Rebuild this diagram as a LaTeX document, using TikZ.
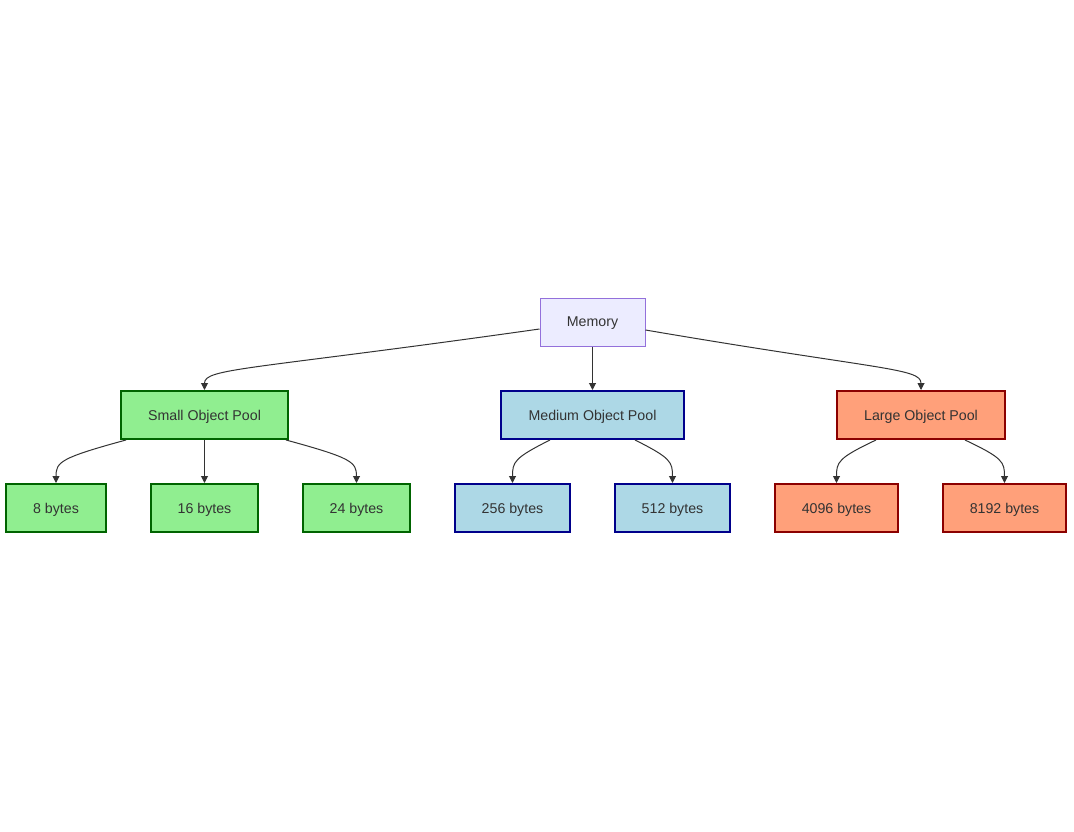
\documentclass[tikz,border=0pt]{standalone}
\usepackage{fontspec}
\setmainfont{Liberation Sans}
\usetikzlibrary{arrows.meta}
\definecolor{textgray}{HTML}{333333}
\definecolor{memfill}{HTML}{ECECFF}
\definecolor{memline}{HTML}{9370DB}
\definecolor{smallfill}{HTML}{90EE90}
\definecolor{smallline}{HTML}{006400}
\definecolor{medfill}{HTML}{ADD8E6}
\definecolor{medline}{HTML}{00008B}
\definecolor{largefill}{HTML}{FFA07A}
\definecolor{largeline}{HTML}{8B0000}
\begin{document}
\begin{tikzpicture}[x=1pt, y=-1pt,
    box/.style={draw, rectangle, minimum height=48pt, inner sep=0pt,
      text depth=0pt, text=textgray, font=\fontsize{14.2}{17}\selectfont},
    memorybox/.style={box, fill=memfill, draw=memline, line width=1pt},
    smallbox/.style={box, fill=smallfill, draw=smallline, line width=2pt},
    mediumbox/.style={box, fill=medfill, draw=medline, line width=2pt},
    largebox/.style={box, fill=largefill, draw=largeline, line width=2pt},
    link/.style={draw=textgray, line width=1pt, -{Triangle[length=7pt, width=7pt]}}]
    \useasboundingbox (0,0) rectangle (1074,832);

    \node [memorybox, minimum width=105pt] (mem) at (592.5,322) {Memory};

    \node [smallbox, minimum width=167pt] (sp) at (204.5,415) {Small Object Pool};
    \node [mediumbox, minimum width=183pt] (mp) at (592.5,415) {Medium Object Pool};
    \node [largebox, minimum width=168pt] (lp) at (921,415) {Large Object Pool};

    \node [smallbox, minimum width=100pt] (s8) at (56,508) {8 bytes};
    \node [smallbox, minimum width=107pt] (s16) at (204.5,508) {16 bytes};
    \node [smallbox, minimum width=107pt] (s24) at (356.5,508) {24 bytes};
    \node [mediumbox, minimum width=115pt] (m256) at (512.5,508) {256 bytes};
    \node [mediumbox, minimum width=115pt] (m512) at (672.5,508) {512 bytes};
    \node [largebox, minimum width=123pt] (l4096) at (836.5,508) {4096 bytes};
    \node [largebox, minimum width=123pt] (l8192) at (1004.5,508) {8192 bytes};

    % memory to pools
    \draw [link] ([yshift=-7pt]mem.west) .. controls (250,370) and (204.5,368) .. (sp.north);
    \draw [link] (mem.south) -- (mp.north);
    \draw [link] ([yshift=-8pt]mem.east) .. controls (880,370) and (921,368) .. (lp.north);

    % pools to sizes
    \draw [link] ([xshift=6pt]sp.south west) .. controls (60,458) and (56,462) .. (s8.north);
    \draw [link] (sp.south) -- (s16.north);
    \draw [link] ([xshift=-3pt]sp.south east) .. controls (352,458) and (356.5,462) .. (s24.north);
    \draw [link] ([xshift=50pt]mp.south west) .. controls (514,458) and (512.5,462) .. (m256.north);
    \draw [link] ([xshift=-50pt]mp.south east) .. controls (671,458) and (672.5,462) .. (m512.north);
    \draw [link] ([xshift=40pt]lp.south west) .. controls (838,458) and (836.5,462) .. (l4096.north);
    \draw [link] ([xshift=-41pt]lp.south east) .. controls (1003,458) and (1004.5,462) .. (l8192.north);
  \end{tikzpicture}
\end{document}
